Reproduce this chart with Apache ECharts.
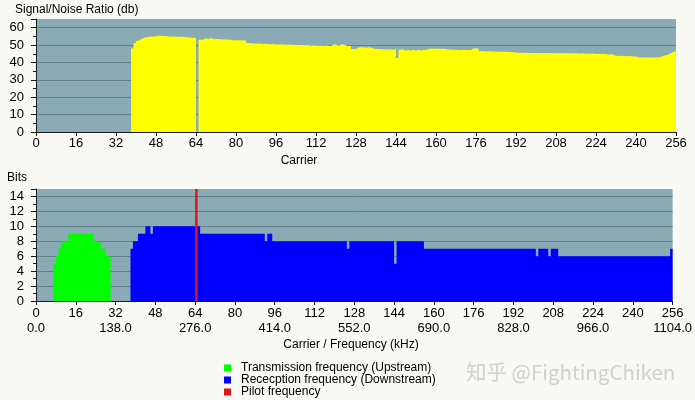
<!DOCTYPE html>
<html>
<head>
<meta charset="utf-8">
<script src="https://cdn.jsdelivr.net/npm/echarts@6/dist/echarts.min.js"></script>
<style>
html,body{margin:0;padding:0;background:#f8f8f5;}
#c{width:695px;height:400px;}
</style>
</head>
<body>
<div id="c"></div>
<script>
// ---- data ----
const carrierTicks = [0, 16, 32, 48, 64, 80, 96, 112, 128, 144, 160, 176, 192, 208, 224, 240, 256];
const freqTicks = ['0.0', '138.0', '276.0', '414.0', '552.0', '690.0', '828.0', '966.0', '1104.0'];
const snrTicks = [0, 10, 20, 30, 40, 50, 60];
const bitsTicks = [0, 2, 4, 6, 8, 10, 12, 14];

// Signal/Noise ratio (dB), carriers 38..255
const snrStart = 38;
const snrDb = [
  48, 51, 52.5, 53.5, 54, 54.5, 54.6, 55, 55, 55.1,
  55.3, 55.3, 55.2, 55.2, 55, 55, 54.8, 55, 54.7, 54.8,
  54.6, 54.5, 54.5, 54.2, 54.2, 54, 0, 53, 53.2, 54,
  53.5, 54, 53.7, 53.5, 53.5, 53.3, 53.2, 53.2, 53, 53,
  52.8, 52.8, 52.8, 52.7, 52.8, 52.5, 51.2, 51, 51, 50.8,
  50.9, 50.8, 50.6, 50.8, 50.5, 50.5, 50.6, 50.4, 50.3, 50.5,
  50.3, 50.2, 50.3, 50.1, 50.2, 50, 50.1, 50, 50, 49.9,
  50, 49.8, 49.9, 49.8, 49.7, 49.8, 49.6, 49.7, 49.6, 49.5,
  50.3, 50.4, 49.6, 50.4, 50.3, 49.8, 49.5, 49.4, 47.8, 47.7,
  48.6, 48.8, 48.7, 48.5, 48.8, 48.6, 48, 47.8, 47.7, 47.6,
  47.6, 47.5, 47.6, 47.5, 47.5, 47.6, 42.5, 47.3, 47.4, 46.8,
  47.3, 46.8, 47.3, 46.8, 47.3, 46.8, 47.3, 47.2, 47.8, 48,
  47.9, 47.9, 48, 47.8, 47.9, 47.6, 47.5, 47.5, 47.3, 47.3,
  47.2, 47.2, 47.3, 47.2, 47.2, 47.1, 48, 48.2, 47.9, 46.6,
  46.5, 46.5, 46.4, 46.4, 46.3, 46.3, 46.2, 46.2, 46.1, 46.1,
  46, 46, 45.9, 45.8, 45.6, 45.6, 45.5, 45.6, 45.4, 45.5,
  45.4, 45.4, 45.5, 45.3, 45.4, 45.3, 45.5, 45.4, 45.3, 45.3,
  45.4, 45.3, 45.3, 45.4, 45.3, 45.3, 45.2, 45.3, 45.2, 45.2,
  45.3, 45, 45.1, 45, 45.1, 44.9, 45, 44.9, 44.8, 44.9,
  44.5, 44.8, 44.5, 43.8, 43.7, 43.8, 43.6, 43.7, 43.6, 43.7,
  43.5, 43.5, 43, 42.9, 43, 42.8, 42.9, 42.8, 42.9, 43,
  42.9, 43.3, 43.8, 44.2, 44.6, 45.5, 46.2, 46.4
];

// Bits per carrier, upstream carriers 7..29
const upstreamStart = 7;
const upstreamBits = [5, 6, 7, 8, 8, 8, 9, 9, 9, 9, 9, 9, 9, 9, 9, 9, 8, 8, 8, 7, 7, 6, 6];

// Bits per carrier, downstream carriers 38..255
const downstreamStart = 38;
const downstreamBits = [
  7, 8, 8, 9, 9, 9, 10, 10, 9, 10,
  10, 10, 10, 10, 10, 10, 10, 10, 10, 10,
  10, 10, 10, 10, 10, 10, 10, 10, 9, 9,
  9, 9, 9, 9, 9, 9, 9, 9, 9, 9,
  9, 9, 9, 9, 9, 9, 9, 9, 9, 9,
  9, 9, 9, 9, 8, 9, 9, 8, 8, 8,
  8, 8, 8, 8, 8, 8, 8, 8, 8, 8,
  8, 8, 8, 8, 8, 8, 8, 8, 8, 8,
  8, 8, 8, 8, 8, 8, 8, 7, 8, 8,
  8, 8, 8, 8, 8, 8, 8, 8, 8, 8,
  8, 8, 8, 8, 8, 8, 5, 8, 8, 8,
  8, 8, 8, 8, 8, 8, 8, 8, 7, 7,
  7, 7, 7, 7, 7, 7, 7, 7, 7, 7,
  7, 7, 7, 7, 7, 7, 7, 7, 7, 7,
  7, 7, 7, 7, 7, 7, 7, 7, 7, 7,
  7, 7, 7, 7, 7, 7, 7, 7, 7, 7,
  7, 7, 7, 6, 7, 7, 7, 7, 6, 7,
  7, 7, 6, 6, 6, 6, 6, 6, 6, 6,
  6, 6, 6, 6, 6, 6, 6, 6, 6, 6,
  6, 6, 6, 6, 6, 6, 6, 6, 6, 6,
  6, 6, 6, 6, 6, 6, 6, 6, 6, 6,
  6, 6, 6, 6, 6, 6, 6, 7
];

// Pilot tone
const pilotCarriers = [64];
const pilotBits = [15];

const legendNames = ['Transmission frequency (Upstream)', 'Rececption frequency (Downstream)', 'Pilot frequency'];
const legendColors = ['#00ff00', '#0000ff', '#dd1515'];

// ---- helpers: step data from start carrier + per-carrier values ----
function stepData(start, values) {
  const d = values.map((v, i) => [start + i, v]);
  d.push([start + values.length, values[values.length - 1]]);
  return d;
}

const FONT = 'Liberation Sans';
const PLOT_BG = '#8aaab5';
const GRID_LINE = '#637f8a';
const AXIS = '#1a1a1a';

const chart = echarts.init(document.getElementById('c'), null, {renderer: 'canvas'});

function xCarrierAxis(gridIndex, margin) {
  return {
    type: 'value', gridIndex: gridIndex, min: 0, max: 256, interval: 16,
    axisLine: {show: true, onZero: false, lineStyle: {color: AXIS, width: 1}},
    axisTick: {show: true, length: 4, lineStyle: {color: AXIS}},
    axisLabel: {
      color: '#000', fontSize: 13, fontFamily: FONT, margin: margin,
      formatter: v => String(carrierTicks[Math.round(v / 16)])
    },
    splitLine: {show: false}
  };
}

function yAxis(gridIndex, max, interval, ticks) {
  return {
    type: 'value', gridIndex: gridIndex, min: 0, max: max, interval: interval,
    axisLine: {show: true, lineStyle: {color: AXIS, width: 1}},
    axisTick: {show: true, length: 5, lineStyle: {color: AXIS}},
    minorTick: {show: true, splitNumber: 2, length: 3, lineStyle: {color: AXIS}},
    axisLabel: {
      color: '#000', fontSize: 13, fontFamily: FONT, margin: 12,
      showMaxLabel: false,
      formatter: v => {
        const i = Math.round(v / interval);
        return ticks[i] !== undefined && ticks[i] === v ? String(ticks[i]) : '';
      }
    },
    splitLine: {show: true, showMinLine: false, showMaxLine: false, lineStyle: {color: GRID_LINE, width: 1}}
  };
}

const option = {
  backgroundColor: '#f8f8f5',
  animation: false,
  textStyle: {fontFamily: FONT},
  grid: [
    {left: 36, right: 19, top: 19, height: 113, show: true, backgroundColor: PLOT_BG, borderWidth: 0, containLabel: false},
    {left: 36, right: 19, top: 189, height: 112, show: true, backgroundColor: PLOT_BG, borderWidth: 0, containLabel: false}
  ],
  xAxis: [
    xCarrierAxis(0, 5),
    xCarrierAxis(1, 6),
    {
      type: 'value', gridIndex: 1, min: 0, max: 1104, interval: 138, position: 'bottom', offset: 15,
      axisLine: {show: false}, axisTick: {show: false}, splitLine: {show: false},
      axisLabel: {
        color: '#000', fontSize: 13, fontFamily: FONT, margin: 6,
        formatter: v => freqTicks[Math.round(v / 138)]
      }
    }
  ],
  yAxis: [
    yAxis(0, 65, 10, snrTicks),
    yAxis(1, 15, 2, bitsTicks)
  ],
  legend: {
    orient: 'vertical', left: 224, top: 362, width: 240, height: 40, padding: 0,
    itemWidth: 7, itemHeight: 7, itemGap: 0,
    icon: 'rect', selectedMode: false,
    textStyle: {color: '#000', fontSize: 12, fontFamily: FONT, lineHeight: 12, padding: [0, 0, 0, 5]},
    data: legendNames.map((n, i) => ({name: n, itemStyle: {color: legendColors[i]}}))
  },
  series: [
    {
      name: 'SNR', type: 'line', xAxisIndex: 0, yAxisIndex: 0, step: 'end', symbol: 'none',
      color: '#ffff00', lineStyle: {width: 0, opacity: 0}, areaStyle: {color: '#ffff00', opacity: 1},
      data: stepData(snrStart, snrDb), z: 3
    },
    {
      name: legendNames[0], type: 'line', xAxisIndex: 1, yAxisIndex: 1, step: 'end', symbol: 'none',
      color: legendColors[0], lineStyle: {width: 0, opacity: 0}, areaStyle: {color: legendColors[0], opacity: 1},
      data: stepData(upstreamStart, upstreamBits), z: 3
    },
    {
      name: legendNames[1], type: 'line', xAxisIndex: 1, yAxisIndex: 1, step: 'end', symbol: 'none',
      color: legendColors[1], lineStyle: {width: 0, opacity: 0}, areaStyle: {color: legendColors[1], opacity: 1},
      data: stepData(downstreamStart, downstreamBits), z: 3
    },
    {
      name: legendNames[2], type: 'line', xAxisIndex: 1, yAxisIndex: 1, step: 'end', symbol: 'none',
      color: legendColors[2], lineStyle: {width: 0, opacity: 0}, areaStyle: {color: legendColors[2], opacity: 1},
      data: stepData(pilotCarriers[0], pilotBits), z: 4
    }
  ],
  graphic: [
    {type: 'text', x: 15, y: 10, style: {text: 'Signal/Noise Ratio (db)', font: '12px "Liberation Sans"', fill: '#000', align: 'left', verticalAlign: 'middle', textAlign: 'left', textVerticalAlign: 'middle'}},
    {type: 'text', x: 299, y: 161, style: {text: 'Carrier', font: '12px "Liberation Sans"', fill: '#000', align: 'center', verticalAlign: 'middle', textAlign: 'center', textVerticalAlign: 'middle'}},
    {type: 'text', x: 7, y: 178, style: {text: 'Bits', font: '12px "Liberation Sans"', fill: '#000', align: 'left', verticalAlign: 'middle', textAlign: 'left', textVerticalAlign: 'middle'}},
    {type: 'text', x: 351, y: 345, style: {text: 'Carrier / Frequency (kHz)', font: '12px "Liberation Sans"', fill: '#000', align: 'center', verticalAlign: 'middle', textAlign: 'center', textVerticalAlign: 'middle'}},
    {type: 'text', x: 466, y: 372, style: {text: '知乎 @FightingChiken', font: '20.5px "Noto Sans CJK SC"', fill: '#d0d0d0', align: 'left', verticalAlign: 'middle', textAlign: 'left', textVerticalAlign: 'middle'}}
  ]
};

chart.setOption(option);
</script>
</body>
</html>
